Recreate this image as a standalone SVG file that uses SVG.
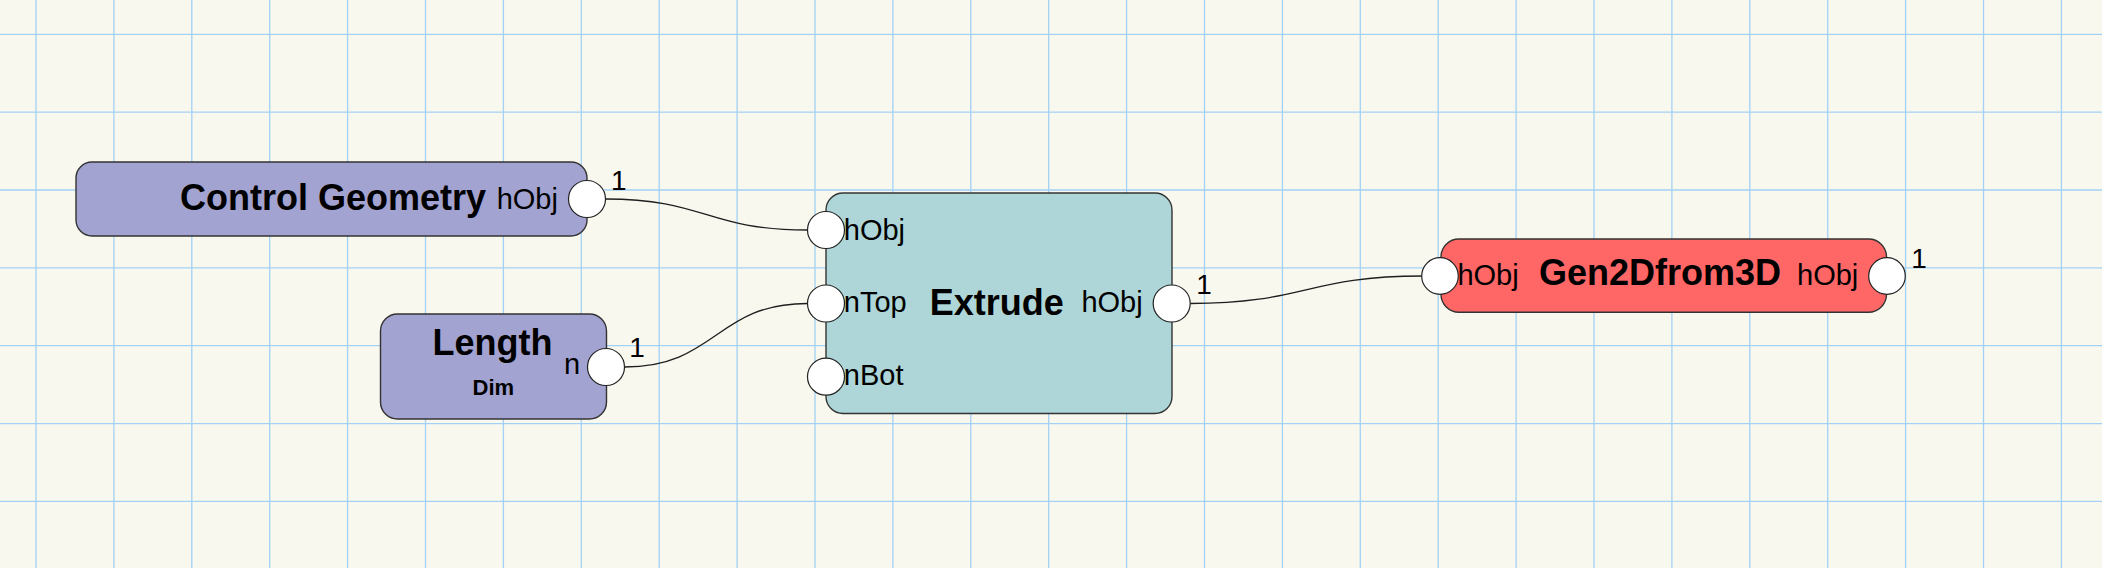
<svg xmlns="http://www.w3.org/2000/svg" width="2102" height="568" viewBox="0 0 2102 568">
<style>
.bg{fill:#f8f8ef}
.grid{stroke:#a3d1f5;stroke-width:1.3;fill:none}
.wire{stroke:#1e1e1e;stroke-width:1.3;fill:none}
.body{stroke:#333;stroke-width:1.4}
.purple{fill:#a3a3d1}
.teal{fill:#aed6d8}
.red{fill:#ff6666}
.port{fill:#ffffff;stroke:#222;stroke-width:1.2}
.title{font-family:"Liberation Sans",Arial,sans-serif;font-weight:bold;font-size:36px;fill:#000}
.sub{font-family:"Liberation Sans",Arial,sans-serif;font-weight:bold;font-size:22px;fill:#000}
.pl{font-family:"Liberation Sans",Arial,sans-serif;font-size:29px;fill:#000}
.num{font-family:"Liberation Sans",Arial,sans-serif;font-size:28px;fill:#000}
</style>
<rect class="bg" x="0" y="0" width="2102" height="568"/>
<path class="grid" d="M36 0V568M113.9 0V568M191.8 0V568M269.7 0V568M347.6 0V568M425.5 0V568M503.4 0V568M581.3 0V568M659.2 0V568M737.1 0V568M815 0V568M892.9 0V568M970.8 0V568M1048.7 0V568M1126.6 0V568M1204.5 0V568M1282.4 0V568M1360.3 0V568M1438.2 0V568M1516.1 0V568M1594 0V568M1671.9 0V568M1749.8 0V568M1827.7 0V568M1905.6 0V568M1983.5 0V568M2061.4 0V568M0 34.3H2102M0 112.2H2102M0 190H2102M0 267.9H2102M0 345.7H2102M0 423.6H2102M0 501.4H2102"/>
<g id="connectors">
<path class="wire" d="M605.5 199C706 199 706 230 807.3 230"/>
<path class="wire" d="M624.5 367C716 367 716 303.5 807.3 303.5"/>
<path class="wire" d="M1190.2 303.5C1306 303.5 1306 276 1422.7 276"/>
</g>
<g id="control-geometry">
<rect class="body purple" x="76" y="162" width="511" height="74" rx="16" ry="16"/>
<text class="title" x="486" y="210" text-anchor="end">Control Geometry</text>
<text class="pl" x="496.7" y="209">hObj</text>
<circle class="port" cx="587" cy="199" r="18.5"/>
<text class="num" x="611" y="190">1</text>
</g>
<g id="length">
<rect class="body purple" x="380.5" y="314" width="226" height="105" rx="17" ry="17"/>
<text class="title" x="492.5" y="355" text-anchor="middle">Length</text>
<text class="sub" x="493.3" y="395" text-anchor="middle">Dim</text>
<text class="pl" x="564" y="374">n</text>
<circle class="port" cx="606" cy="367" r="18.5"/>
<text class="num" x="629.2" y="357">1</text>
</g>
<g id="extrude">
<rect class="body teal" x="826" y="193" width="346" height="220.5" rx="17" ry="17"/>
<circle class="port" cx="826" cy="230" r="18.5"/>
<circle class="port" cx="826" cy="303.5" r="18.5"/>
<circle class="port" cx="826" cy="376.7" r="18.5"/>
<text class="pl" x="843.8" y="239.5">hObj</text>
<text class="pl" x="843.8" y="312">nTop</text>
<text class="pl" x="843.8" y="385">nBot</text>
<text class="title" x="929.7" y="315">Extrude</text>
<text class="pl" x="1081.4" y="312">hObj</text>
<circle class="port" cx="1171.7" cy="303.5" r="18.5"/>
<text class="num" x="1196.3" y="294">1</text>
</g>
<g id="gen2dfrom3d">
<rect class="body red" x="1441" y="239" width="445.5" height="73.3" rx="18" ry="18"/>
<circle class="port" cx="1440" cy="276" r="18.3"/>
<text class="pl" x="1457.4" y="284.5">hObj</text>
<text class="title" x="1539" y="285">Gen2Dfrom3D</text>
<text class="pl" x="1797" y="284.5">hObj</text>
<circle class="port" cx="1887" cy="276" r="18.3"/>
<text class="num" x="1911.3" y="267.5">1</text>
</g>
</svg>
